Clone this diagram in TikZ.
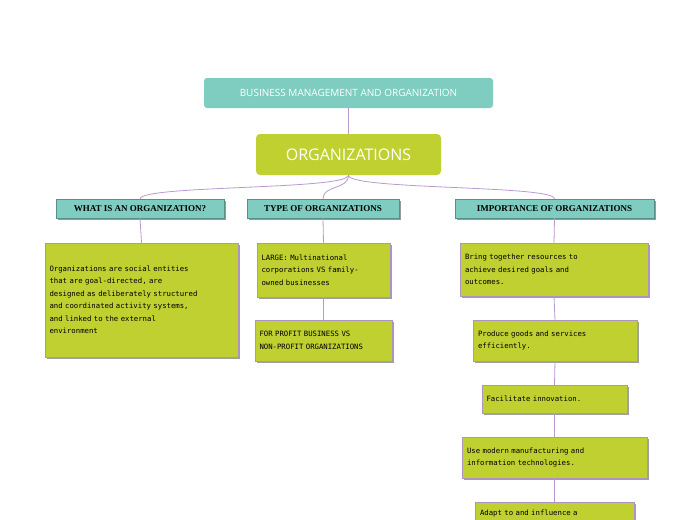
\documentclass[tikz,border=0pt]{standalone}
\usepackage{fontspec}
\setmainfont{Open Sans}
\newfontfamily\monof{DejaVu Sans Mono}
\newfontfamily\headf{Liberation Serif}
\usetikzlibrary{shadows}
\definecolor{teal1}{HTML}{7ECDC0}
\definecolor{grn}{HTML}{BFD030}
\definecolor{lnk}{HTML}{B99AD0}
\begin{document}
\begin{tikzpicture}[x=1pt,y=-1pt,
 hdr/.style={fill=teal1,draw=teal1!70!black,line width=0.4pt,inner sep=0pt,font=\headf\bfseries\fontsize{9}{10}\selectfont,
   drop shadow={shadow xshift=1.5pt,shadow yshift=-1.5pt,fill=black!80}},
 gbox/.style={fill=grn,draw=lnk!80!gray,line width=0.5pt,inner sep=0pt,align=left,font=\monof\fontsize{7.3}{12.5}\selectfont,
   drop shadow={shadow xshift=1.5pt,shadow yshift=-1.5pt,fill=black!75}},
 lk/.style={draw=lnk,line width=0.8pt}]
\useasboundingbox (0,0) rectangle (697,520);
\fill[white] (0,0) rectangle (697,520);
\node[fill=teal1,rounded corners=3pt,minimum width=289pt,minimum height=30pt,text=white,font=\fontsize{10}{12}\selectfont] (top) at (348.5,93) {BUSINESS MANAGEMENT AND ORGANIZATION};
\node[fill=grn,rounded corners=4pt,minimum width=185pt,minimum height=41pt,text=white,font=\fontsize{16}{19}\selectfont] (org) at (348.5,154.5) {ORGANIZATIONS};
\draw[lk] (top.south) -- (org.north);
\node[hdr,minimum width=168pt,minimum height=19pt] (h1) at (140,208.5) {WHAT IS AN ORGANIZATION?};
\node[hdr,minimum width=152pt,minimum height=19pt] (h2) at (323,208.5) {TYPE OF ORGANIZATIONS};
\node[hdr,minimum width=199pt,minimum height=19pt] (h3) at (554.5,208.5) {IMPORTANCE OF ORGANIZATIONS};
\draw[lk] (org.south) .. controls (348,190) and (142,185) .. (h1.north);
\draw[lk] (org.south) .. controls (348,190) and (323,185) .. (h2.north);
\draw[lk] (org.south) .. controls (348,190) and (555,185) .. (h3.north);
\node[gbox,minimum width=193pt,minimum height=114pt,text width=184pt] (w1) at (141.5,300) {Organizations are social entities\\that are goal-directed, are\\designed as deliberately structured\\and coordinated activity systems,\\and linked to the external\\environment};
\node[gbox,minimum width=133pt,minimum height=54pt,text width=124pt] (t1) at (323.5,270) {LARGE: Multinational\\corporations VS family-\\owned businesses};
\node[gbox,minimum width=137pt,minimum height=41pt,text width=128pt] (t2) at (323.5,340.5) {FOR PROFIT BUSINESS VS\\NON-PROFIT ORGANIZATIONS};
\node[gbox,minimum width=188pt,minimum height=53pt,text width=178pt] (i1) at (554,269.5) {Bring together resources to\\achieve desired goals and\\outcomes.};
\node[gbox,minimum width=164pt,minimum height=41pt,text width=154pt] (i2) at (555,340.5) {Produce goods and services\\efficiently.};
\node[gbox,minimum width=145pt,minimum height=28pt,text width=136pt] (i3) at (554.5,399) {Facilitate innovation.};
\node[gbox,minimum width=185pt,minimum height=41pt,text width=175pt] (i4) at (554.5,457.5) {Use modern manufacturing and\\information technologies.};
\node[gbox,minimum width=159pt,minimum height=30pt,text width=149pt,anchor=north,text depth=10pt] (i5) at (554.5,502) {Adapt to and influence a};
\draw[lk] (h1.south) -- (w1.north);
\draw[lk] (h2.south) -- (t1.north);
\draw[lk] (t1.south) -- (t2.north);
\draw[lk] (h3.south) -- (i1.north);
\draw[lk] (i1.south) -- (i2.north);
\draw[lk] (i2.south) -- (i3.north);
\draw[lk] (i3.south) -- (i4.north);
\draw[lk] (i4.south) -- (i5.north);
\end{tikzpicture}
\end{document}
